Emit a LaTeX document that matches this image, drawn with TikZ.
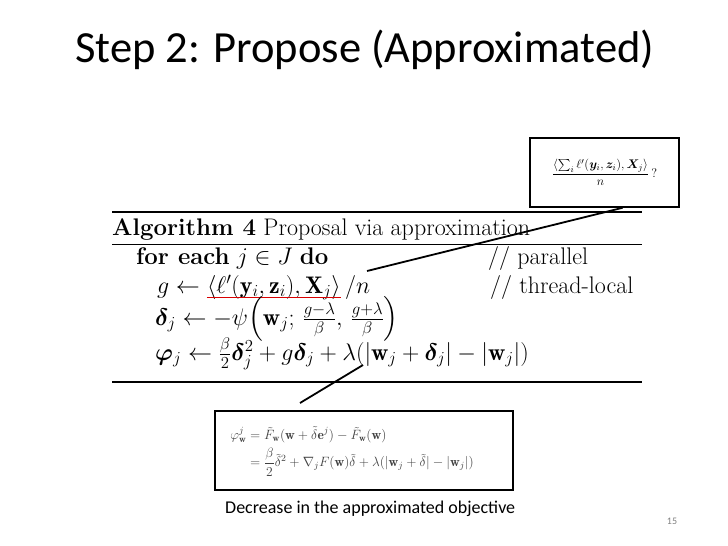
\RequirePackage{fix-cm}
\documentclass[tikz,border=0pt]{standalone}
\usepackage{amsmath,bm}
\usepackage{fontspec}
\newfontfamily\slidefont{Carlito}
\usetikzlibrary{calc}

\tikzset{
  rulethick/.style={line width=2pt},
  rulethin/.style={line width=0.8pt},
  algotext/.style={anchor=base west, inner sep=0pt, font=\fontsize{24}{28}\selectfont},
  callout/.style={draw, line width=1.6pt, inner sep=0pt},
  pointer/.style={line width=1.8pt},
}

\begin{document}
\begin{tikzpicture}[x=1pt,y=-1pt]
			%%%%% START %%%%%
			\useasboundingbox (0,0) rectangle (728,546);
			\node[anchor=base west, inner sep=0pt, font=\slidefont\fontsize{44.5}{52}\selectfont] (title) at (75,62) {Step 2: Propose (Approximated)};
			
			% algorithm block
			\draw[rulethick] (112,212) -- (642,212);
			\node[algotext] (algohead) at (112,235) {\textbf{Algorithm 4} Proposal via approximation};
			\draw[rulethin] (112,244) -- (642,244);
			\node[algotext] (forrow) at (136,264) {\textbf{for each} $j\in J$ \textbf{do}};
			\node[algotext] (garrow) at (157,293) {$g\leftarrow$};
			\node[algotext] (gbracket) at ([xshift=6.7pt]garrow.base east) {$\langle \ell'(\mathbf{y}_i,\mathbf{z}_i),\mathbf{X}_j\rangle$};
			\node[algotext] (gdiv) at ([xshift=4pt]gbracket.base east) {$/n$};
			\draw[red!85!black, line width=0.9pt] ([yshift=-4.5pt]gbracket.base west) -- ([yshift=-4.5pt]gbracket.base east);
			\node[algotext] (deltarow) at (155,325) {$\bm{\delta}_j\leftarrow -\psi\Big(\mathbf{w}_j;\,\frac{g-\lambda}{\beta},\,\frac{g+\lambda}{\beta}\Big)$};
			\node[algotext] (phirow) at (155,360) {$\bm{\varphi}_j\leftarrow \frac{\beta}{2}\bm{\delta}_j^2+g\bm{\delta}_j+\lambda(|\mathbf{w}_j+\bm{\delta}_j|-|\mathbf{w}_j|)$};
			\node[algotext] (parcomment) at (488,264) {$//$ parallel};
			\node[algotext] (tlcomment) at (490,293) {$//$ thread-local};
			\draw[rulethick] (112,382) -- (642,382);
			
			% callouts
			\node[callout, minimum width=149pt, minimum height=69pt, font=\fontsize{12.5}{15}\selectfont] (approxbox) at (604.5,172.5) {$\dfrac{\langle\sum_i \ell'(\bm{y}_i,\bm{z}_i),\bm{X}_j\rangle}{n}$\,?};
			\coordinate (gtip) at (367,271);
			\draw[pointer] ($(approxbox.south west)!0.62!(approxbox.south east)$) -- (gtip);
			
			\node[callout, minimum width=298pt, minimum height=79pt] (objbox) at (364,450.5) {};
			\node[anchor=west, inner sep=0pt, text=black!75, font=\fontsize{13.5}{16}\selectfont] (objformula) at ([xshift=16pt,yshift=-1pt]objbox.west) {$\begin{aligned}\varphi^j_{\mathbf{w}}&=\tilde F_{\mathbf{w}}(\mathbf{w}+\tilde\delta\mathbf{e}^j)-\tilde F_{\mathbf{w}}(\mathbf{w})\\&=\frac{\beta}{2}\tilde\delta^2+\nabla_jF(\mathbf{w})\tilde\delta+\lambda(|\mathbf{w}_j+\tilde\delta|-|\mathbf{w}_j|)\end{aligned}$};
			\coordinate (lamtip) at (363,365);
			\coordinate (objtip) at (300,403);
			\draw[pointer] (lamtip) -- (objtip);
			
			\node[anchor=base west, inner sep=0pt, font=\slidefont\fontsize{18}{22}\selectfont] (objcaption) at (225,513) {Decrease in the approximated objective};
			\node[inner sep=0pt, text=black!50, font=\slidefont\fontsize{10}{12}\selectfont] (pagenum) at (672,521) {15};
			%%%%% END %%%%%
\end{tikzpicture}
\end{document}
